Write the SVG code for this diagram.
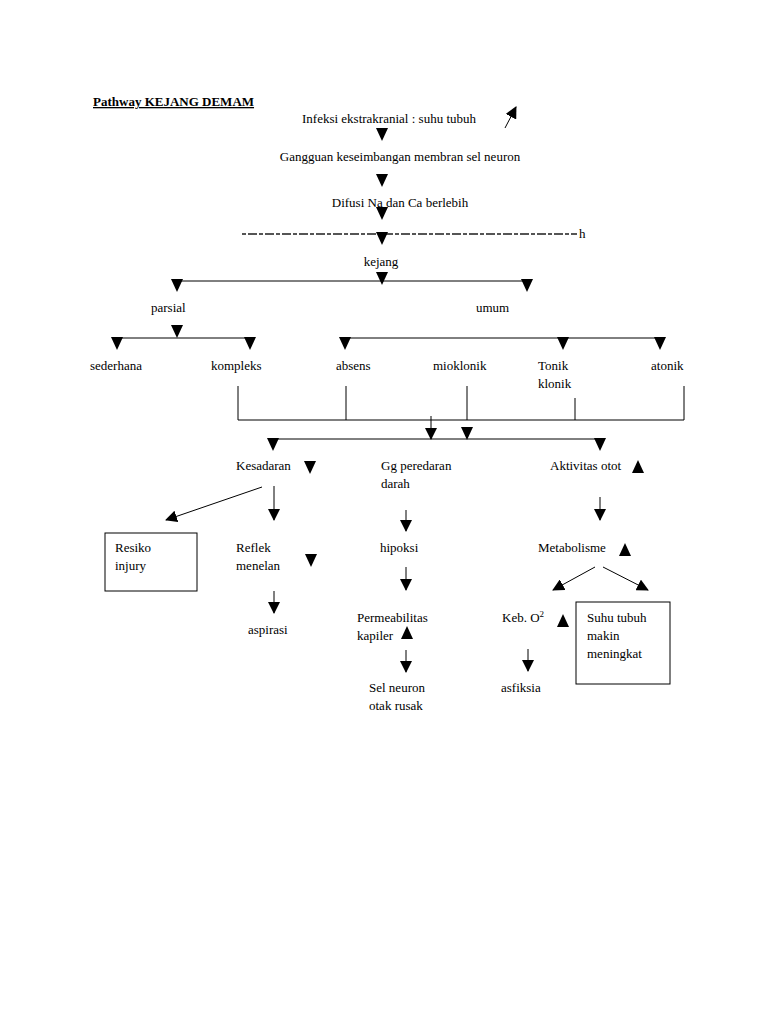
<svg xmlns="http://www.w3.org/2000/svg" xmlns:xlink="http://www.w3.org/1999/xlink" width="768" height="1024" viewBox="0 0 768 1024">
<style>
text{font-family:"Liberation Serif","Times New Roman",serif;font-size:13px;fill:#000}
.l{stroke:#000;stroke-width:1;fill:none}
.b{stroke:#000;stroke-width:1;fill:#fff}
</style>
<defs>
<path id="td" d="M-6,0 L6,0 L0,13 Z" fill="#000"/>
<path id="tu" d="M-6,13 L6,13 L0,0 Z" fill="#000"/>
<marker id="ah" viewBox="0 0 12 12" refX="11" refY="6" markerWidth="12" markerHeight="12" markerUnits="userSpaceOnUse" orient="auto"><path d="M0,0 L12,6 L0,12 Z" fill="#000"/></marker>
</defs>
<rect width="768" height="1024" fill="#fff"/>
<text x="93" y="106" font-weight="bold" text-decoration="underline">Pathway KEJANG DEMAM</text>
<g id="connectors">
<line class="l" x1="505" y1="128" x2="516" y2="107" marker-end="url(#ah)"/>
<use href="#td" x="382" y="128"/>
<use href="#td" x="382" y="174"/>
<use href="#td" x="382" y="207"/>
<line x1="242" y1="234" x2="577" y2="234" stroke="#555" stroke-width="2" stroke-dasharray="4,2,9,2"/>
<use href="#td" x="382" y="232"/>
<line class="l" x1="177" y1="281" x2="527" y2="281"/>
<use href="#td" x="382" y="272"/>
<use href="#td" x="177" y="279"/>
<use href="#td" x="527" y="279"/>
<use href="#td" x="177" y="325"/>
<line class="l" x1="117" y1="338" x2="250" y2="338"/>
<use href="#td" x="117" y="337"/>
<use href="#td" x="250" y="337"/>
<line class="l" x1="345" y1="338" x2="660" y2="338"/>
<use href="#td" x="345" y="337"/>
<use href="#td" x="563" y="337"/>
<use href="#td" x="660" y="337"/>
<path class="l" d="M238,386 V420 H684 V386 M346,386 V420 M467,386 V420 M575,398 V420"/>
<line class="l" x1="431" y1="416" x2="431" y2="439" marker-end="url(#ah)"/>
<use href="#td" x="467" y="427"/>
<line class="l" x1="273" y1="439" x2="600" y2="439"/>
<use href="#td" x="273" y="438"/>
<use href="#td" x="600" y="438"/>
<use href="#td" x="310" y="461"/>
<use href="#tu" x="638" y="460"/>
<line class="l" x1="262" y1="487" x2="166" y2="520" marker-end="url(#ah)"/>
<line class="l" x1="274" y1="486" x2="274" y2="520" marker-end="url(#ah)"/>
<line class="l" x1="406" y1="510" x2="406" y2="531" marker-end="url(#ah)"/>
<line class="l" x1="600" y1="497" x2="600" y2="520" marker-end="url(#ah)"/>
<use href="#td" x="311" y="554"/>
<use href="#tu" x="625" y="543"/>
<line class="l" x1="274" y1="591" x2="274" y2="613" marker-end="url(#ah)"/>
<line class="l" x1="406" y1="567" x2="406" y2="590" marker-end="url(#ah)"/>
<line class="l" x1="595" y1="567" x2="553" y2="590" marker-end="url(#ah)"/>
<line class="l" x1="603" y1="567" x2="648" y2="590" marker-end="url(#ah)"/>
<use href="#tu" x="407" y="626"/>
<use href="#tu" x="563" y="614"/>
<line class="l" x1="406" y1="650" x2="406" y2="672" marker-end="url(#ah)"/>
<line class="l" x1="528" y1="649" x2="528" y2="671" marker-end="url(#ah)"/>
</g>
<g id="infeksi"><text x="389" y="123" text-anchor="middle">Infeksi ekstrakranial : suhu tubuh</text></g>
<g id="gangguan"><text x="400" y="161" text-anchor="middle">Gangguan keseimbangan membran sel neuron</text></g>
<g id="difusi"><text x="400" y="207" text-anchor="middle">Difusi Na dan Ca berlebih</text></g>
<g id="depol"><text x="579" y="238">h</text></g>
<g id="kejang"><text x="381" y="266" text-anchor="middle">kejang</text></g>
<g id="parsial"><text x="151" y="312">parsial</text></g>
<g id="umum"><text x="476" y="312">umum</text></g>
<g id="sederhana"><text x="90" y="370">sederhana</text></g>
<g id="kompleks"><text x="211" y="370">kompleks</text></g>
<g id="absens"><text x="336" y="370">absens</text></g>
<g id="mioklonik"><text x="433" y="370">mioklonik</text></g>
<g id="tonik"><text x="538" y="370">Tonik</text><text x="538" y="388">klonik</text></g>
<g id="atonik"><text x="651" y="370">atonik</text></g>
<g id="kesadaran"><text x="236" y="470">Kesadaran</text></g>
<g id="gg"><text x="381" y="470">Gg peredaran</text><text x="381" y="488">darah</text></g>
<g id="aktivitas"><text x="550" y="470">Aktivitas otot</text></g>
<g id="resiko"><rect class="b" x="105" y="533" width="92" height="58"/><text x="115" y="552">Resiko</text><text x="115" y="570">injury</text></g>
<g id="reflek"><text x="236" y="552">Reflek</text><text x="236" y="570">menelan</text></g>
<g id="hipoksi"><text x="380" y="552">hipoksi</text></g>
<g id="metabolisme"><text x="538" y="552">Metabolisme</text></g>
<g id="aspirasi"><text x="248" y="634">aspirasi</text></g>
<g id="permeabilitas"><text x="357" y="622">Permeabilitas</text><text x="357" y="640">kapiler</text></g>
<g id="keb"><text x="502" y="622">Keb. O<tspan dy="-5" font-size="9">2</tspan></text></g>
<g id="suhu"><rect class="b" x="576" y="602" width="94" height="82"/><text x="587" y="622">Suhu tubuh</text><text x="587" y="640">makin</text><text x="587" y="658">meningkat</text></g>
<g id="selneuron"><text x="369" y="692">Sel neuron</text><text x="369" y="710">otak rusak</text></g>
<g id="asfiksia"><text x="501" y="692">asfiksia</text></g>
</svg>
